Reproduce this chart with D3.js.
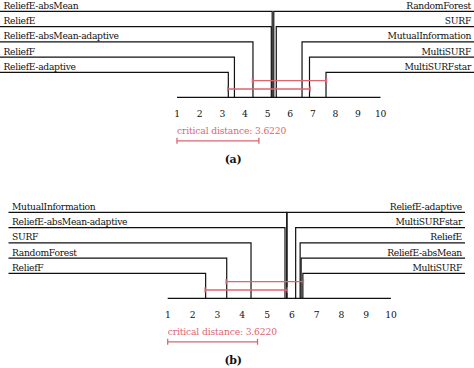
<!DOCTYPE html>
<html>
<head>
<meta charset="utf-8">
<script src="https://cdn.jsdelivr.net/npm/d3@7"></script>
<style>
  html, body { margin: 0; padding: 0; background: #fff; }
  svg { display: block; }
  svg text { font-family: 'DejaVu Serif', 'Liberation Serif', serif; letter-spacing: -0.3px; }
</style>
</head>
<body>
<div id="chart"></div>
<script>
// critical difference diagrams, two panels (a) and (b)

var tickLabels = [1, 2, 3, 4, 5, 6, 7, 8, 9, 10];
var criticalDistance = 3.6220;

// panel (a) - rows listed top to bottom
var leftNamesA = ['ReliefE-absMean', 'ReliefE', 'ReliefE-absMean-adaptive', 'ReliefF', 'ReliefE-adaptive'];
var leftRanksA = [5.21, 5.17, 4.36, 3.54, 3.27];
var rightNamesA = ['RandomForest', 'SURF', 'MutualInformation', 'MultiSURF', 'MultiSURFstar'];
var rightRanksA = [5.28, 5.39, 6.53, 6.86, 7.59];
// cliques, from the axis upward: [lowest rank, highest rank]
var cliquesA = [[3.27, 6.86], [4.36, 7.59]];

// panel (b)
var leftNamesB = ['MutualInformation', 'ReliefE-absMean-adaptive', 'SURF', 'RandomForest', 'ReliefF'];
var leftRanksB = [5.80, 5.73, 4.36, 3.38, 2.53];
var rightNamesB = ['ReliefE-adaptive', 'MultiSURFstar', 'ReliefE', 'ReliefE-absMean', 'MultiSURF'];
var rightRanksB = [5.81, 6.16, 6.34, 6.38, 6.45];
var cliquesB = [[2.53, 5.80], [3.38, 6.45]];

var width = 474, height = 368;
var red = '#dc6670';
var fs = '9.2px';

var svg = d3.select('#chart').append('svg')
    .attr('width', width)
    .attr('height', height);

function drawPanel(cfg) {
    var g = svg.append('g');
    var x = d3.scaleLinear().domain([1, 10]).range(cfg.range);
    var axisY = cfg.axisY;
    var rowY = function(i) { return axisY - 25 - (4 - i) * 15.25; };

    // axis line and tick labels
    g.append('line')
        .attr('x1', x(1)).attr('x2', x(10))
        .attr('y1', axisY).attr('y2', axisY)
        .attr('stroke', '#111').attr('stroke-width', 1.2);

    g.selectAll('text.tick')
        .data(tickLabels)
        .enter().append('text')
        .attr('class', 'tick')
        .attr('x', function(d) { return x(d); })
        .attr('y', axisY + 19.5)
        .attr('text-anchor', 'middle')
        .style('font-size', fs)
        .attr('fill', '#111')
        .text(function(d) { return d; });

    // left side rows
    g.selectAll('path.left')
        .data(cfg.leftRanks)
        .enter().append('path')
        .attr('d', function(d, i) {
            return 'M' + cfg.x0 + ',' + rowY(i) + 'H' + x(d) + 'V' + axisY;
        })
        .attr('fill', 'none')
        .attr('stroke', '#111')
        .attr('stroke-width', 1.2);

    g.selectAll('text.left')
        .data(cfg.leftNames)
        .enter().append('text')
        .attr('x', cfg.x0 + 3.5)
        .attr('y', function(d, i) { return rowY(i) - 2.5; })
        .style('font-size', fs)
        .attr('fill', '#111')
        .text(function(d) { return d; });

    // right side rows
    g.selectAll('path.right')
        .data(cfg.rightRanks)
        .enter().append('path')
        .attr('d', function(d, i) {
            return 'M' + cfg.x1 + ',' + rowY(i) + 'H' + x(d) + 'V' + axisY;
        })
        .attr('fill', 'none')
        .attr('stroke', '#111')
        .attr('stroke-width', 1.2);

    g.selectAll('text.right')
        .data(cfg.rightNames)
        .enter().append('text')
        .attr('x', cfg.x1 - 3)
        .attr('y', function(d, i) { return rowY(i) - 2.5; })
        .attr('text-anchor', 'end')
        .style('font-size', fs)
        .attr('fill', '#111')
        .text(function(d) { return d; });

    // clique bars
    cfg.cliques.forEach(function(c, k) {
        var y = axisY - 8.3 * (k + 1);
        var xa = x(c[0]) - 0.6, xb = x(c[1]) + 0.6;
        g.append('path')
            .attr('d', 'M' + xa + ',' + y + 'H' + xb +
                'M' + xa + ',' + (y - 2.8) + 'V' + (y + 2.8) +
                'M' + xb + ',' + (y - 2.8) + 'V' + (y + 2.8))
            .attr('fill', 'none')
            .attr('stroke', red)
            .attr('stroke-width', 1.3);
    });

    // critical distance
    g.append('text')
        .attr('x', x(1))
        .attr('y', axisY + 37)
        .style('font-size', fs)
        .style('letter-spacing', '-0.15px')
        .attr('fill', red)
        .text('critical distance: ' + criticalDistance.toFixed(4));

    var cy = axisY + 43.5;
    var c0 = x(1), c1 = x(1 + criticalDistance);
    g.append('path')
        .attr('d', 'M' + c0 + ',' + cy + 'H' + c1 +
            'M' + c0 + ',' + (cy - 3) + 'V' + (cy + 3) +
            'M' + c1 + ',' + (cy - 3) + 'V' + (cy + 3))
        .attr('fill', 'none')
        .attr('stroke', red)
        .attr('stroke-width', 1.3);

    // panel caption
    g.append('text')
        .attr('x', 233)
        .attr('y', cfg.captionY)
        .attr('text-anchor', 'middle')
        .style('font-weight', 'bold')
        .style('font-size', '11px')
        .attr('fill', '#111')
        .text(cfg.caption);
}

drawPanel({
    range: [177, 380.5], axisY: 97.3, x0: 0, x1: 474,
    leftNames: leftNamesA, leftRanks: leftRanksA,
    rightNames: rightNamesA, rightRanks: rightRanksA,
    cliques: cliquesA, caption: '(a)', captionY: 163
});

drawPanel({
    range: [167.7, 390.9], axisY: 298.3, x0: 8.5, x1: 465,
    leftNames: leftNamesB, leftRanks: leftRanksB,
    rightNames: rightNamesB, rightRanks: rightRanksB,
    cliques: cliquesB, caption: '(b)', captionY: 364
});
</script>
</body>
</html>
